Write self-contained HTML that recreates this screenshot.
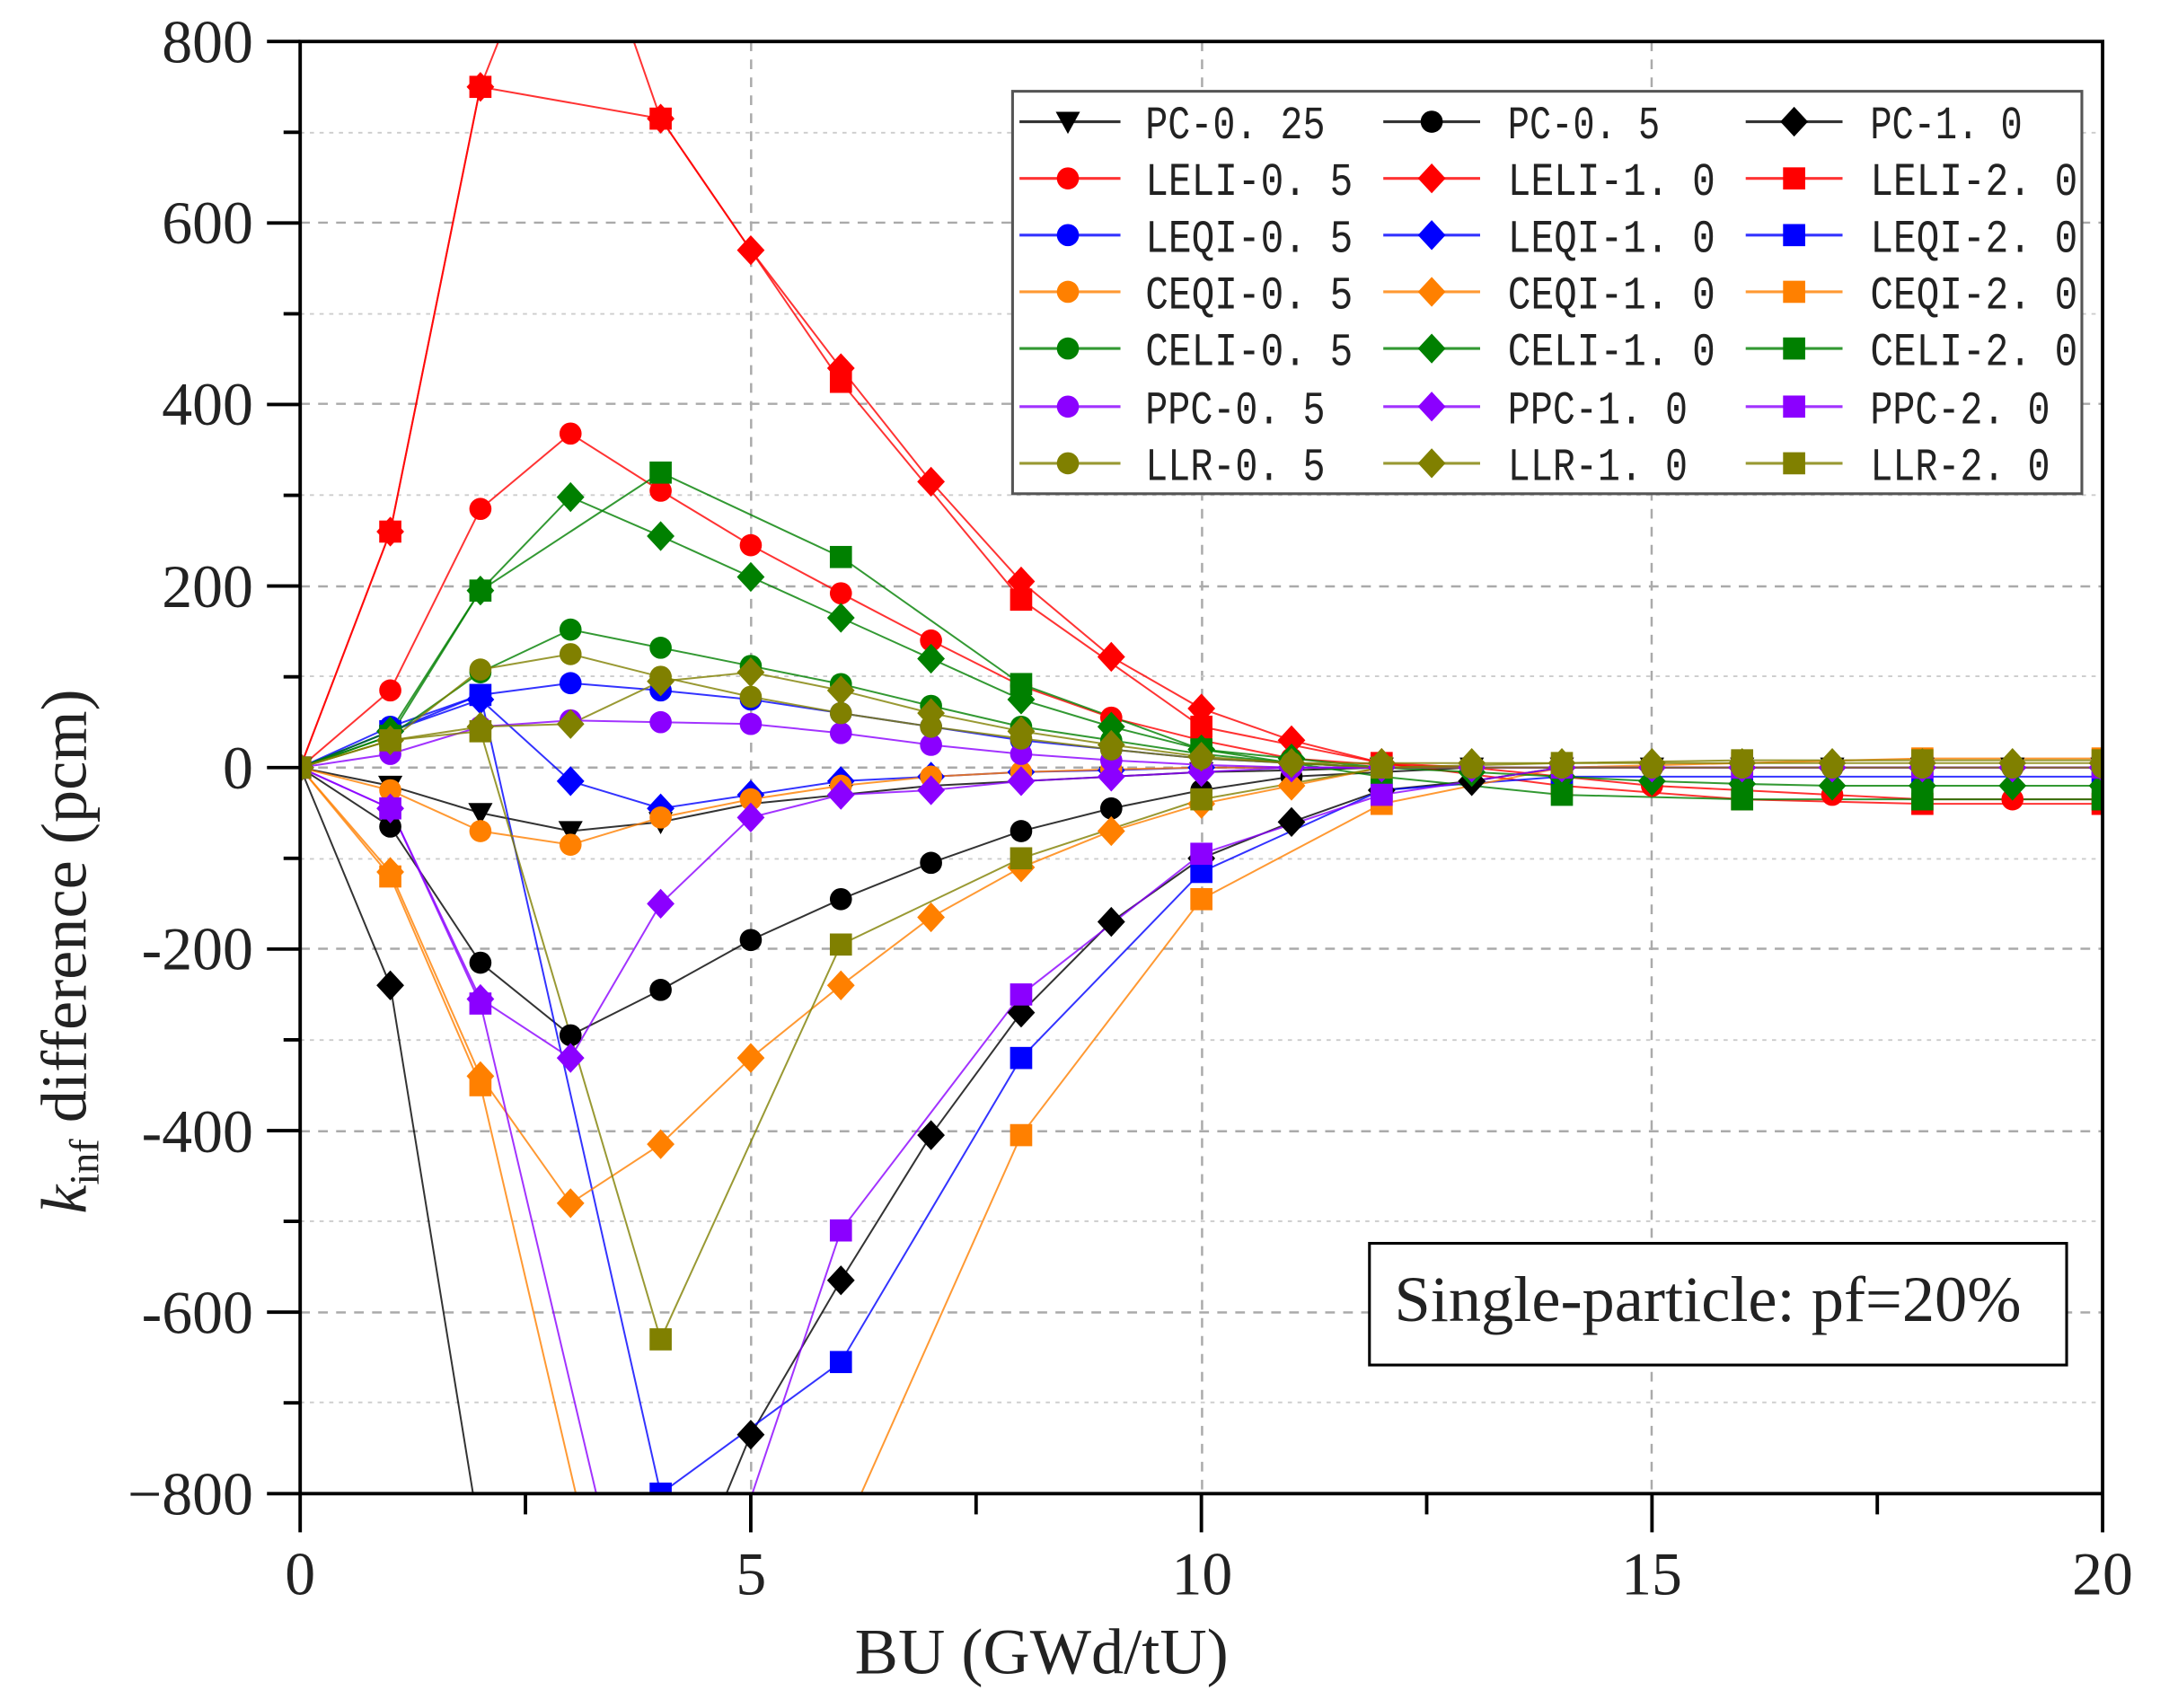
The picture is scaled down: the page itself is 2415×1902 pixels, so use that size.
<!DOCTYPE html>
<html><head><meta charset="utf-8"><style>
html,body{margin:0;padding:0;background:#fff;overflow:hidden;width:2415px;height:1902px;}
svg{display:block;}
.tk{font-family:"Liberation Serif",serif;font-size:44px;fill:#222;}
.ax{font-family:"Liberation Serif",serif;font-size:47px;fill:#222;}
.lg{font-family:"Liberation Mono","Noto Sans CJK SC",monospace;font-size:34px;fill:#222;}
</style></head><body>
<svg id="s" width="2415" height="1902" viewBox="0 0 1568 1235" preserveAspectRatio="none" xmlns="http://www.w3.org/2000/svg">
<defs><clipPath id="cp"><rect x="217" y="30" width="1303" height="1050"/></clipPath></defs>
<rect width="1568" height="1235" fill="#fff"/>
<g stroke="#aaa" stroke-width="1.6" stroke-dasharray="7,6">
<line x1="217" x2="1520" y1="161" y2="161"/><line x1="217" x2="1520" y1="292" y2="292"/><line x1="217" x2="1520" y1="424" y2="424"/>
<line x1="217" x2="1520" y1="555" y2="555"/><line x1="217" x2="1520" y1="686" y2="686"/><line x1="217" x2="1520" y1="818" y2="818"/><line x1="217" x2="1520" y1="949" y2="949"/>
<line x1="543" x2="543" y1="30" y2="1080"/><line x1="869" x2="869" y1="30" y2="1080"/><line x1="1194" x2="1194" y1="30" y2="1080"/>
</g>
<g stroke="#ccc" stroke-width="1.2" stroke-dasharray="3,4">
<line x1="217" x2="1520" y1="96" y2="96"/><line x1="217" x2="1520" y1="227" y2="227"/><line x1="217" x2="1520" y1="358" y2="358"/><line x1="217" x2="1520" y1="489" y2="489"/>
<line x1="217" x2="1520" y1="621" y2="621"/><line x1="217" x2="1520" y1="752" y2="752"/><line x1="217" x2="1520" y1="883" y2="883"/><line x1="217" x2="1520" y1="1014" y2="1014"/>
</g>
<g id="series" clip-path="url(#cp)"></g>
<rect x="217" y="30" width="1303" height="1050" fill="none" stroke="#000" stroke-width="2.5"/>
<g stroke="#000" stroke-width="2.5" id="ticks"></g>
<g class="tk" text-anchor="end">
<text x="183" y="45">800</text><text x="183" y="176">600</text><text x="183" y="307">400</text><text x="183" y="439">200</text>
<text x="183" y="570">0</text><text x="183" y="701">-200</text><text x="183" y="833">-400</text><text x="183" y="964">-600</text><text x="183" y="1095">−800</text>
</g>
<g class="tk" text-anchor="middle">
<text x="217" y="1153">0</text><text x="543" y="1153">5</text><text x="869" y="1153">10</text><text x="1194" y="1153">15</text><text x="1520" y="1153">20</text>
</g>
<text class="ax" x="753" y="1210" text-anchor="middle">BU (GWd/tU)</text>
<text class="ax" transform="translate(62,688) rotate(-90)" text-anchor="middle"><tspan font-style="italic">k</tspan><tspan font-size="30" dy="9">inf</tspan><tspan dy="-9"> difference (pcm)</tspan></text>
<rect x="732" y="66" width="773" height="291" fill="#fff" stroke="#555" stroke-width="2"/>
<g id="legend"></g>
<g class="lg">
<text x="828" y="100" textLength="130" lengthAdjust="spacingAndGlyphs">PC-0. 25</text><text x="1090" y="100" textLength="110" lengthAdjust="spacingAndGlyphs">PC-0. 5</text><text x="1352" y="100" textLength="110" lengthAdjust="spacingAndGlyphs">PC-1. 0</text>
<text x="828" y="141" textLength="150" lengthAdjust="spacingAndGlyphs">LELI-0. 5</text><text x="1090" y="141" textLength="150" lengthAdjust="spacingAndGlyphs">LELI-1. 0</text><text x="1352" y="141" textLength="150" lengthAdjust="spacingAndGlyphs">LELI-2. 0</text>
<text x="828" y="182" textLength="150" lengthAdjust="spacingAndGlyphs">LEQI-0. 5</text><text x="1090" y="182" textLength="150" lengthAdjust="spacingAndGlyphs">LEQI-1. 0</text><text x="1352" y="182" textLength="150" lengthAdjust="spacingAndGlyphs">LEQI-2. 0</text>
<text x="828" y="223" textLength="150" lengthAdjust="spacingAndGlyphs">CEQI-0. 5</text><text x="1090" y="223" textLength="150" lengthAdjust="spacingAndGlyphs">CEQI-1. 0</text><text x="1352" y="223" textLength="150" lengthAdjust="spacingAndGlyphs">CEQI-2. 0</text>
<text x="828" y="264" textLength="150" lengthAdjust="spacingAndGlyphs">CELI-0. 5</text><text x="1090" y="264" textLength="150" lengthAdjust="spacingAndGlyphs">CELI-1. 0</text><text x="1352" y="264" textLength="150" lengthAdjust="spacingAndGlyphs">CELI-2. 0</text>
<text x="828" y="306" textLength="130" lengthAdjust="spacingAndGlyphs">PPC-0. 5</text><text x="1090" y="306" textLength="130" lengthAdjust="spacingAndGlyphs">PPC-1. 0</text><text x="1352" y="306" textLength="130" lengthAdjust="spacingAndGlyphs">PPC-2. 0</text>
<text x="828" y="347" textLength="130" lengthAdjust="spacingAndGlyphs">LLR-0. 5</text><text x="1090" y="347" textLength="130" lengthAdjust="spacingAndGlyphs">LLR-1. 0</text><text x="1352" y="347" textLength="130" lengthAdjust="spacingAndGlyphs">LLR-2. 0</text>
</g>
<rect x="990" y="899" width="504" height="88" fill="#fff" stroke="#000" stroke-width="2"/>
<text class="ax" x="1008" y="955">Single-particle: pf=20%</text>
</svg>
<script>
var NS="http://www.w3.org/2000/svg";
function X(v){return 217+65.15*v;} function Y(v){return 555-0.65625*v;}
function el(p,t,a){var e=document.createElementNS(NS,t);for(var k in a)e.setAttribute(k,a[k]);p.appendChild(e);return e;}
function mk(g,type,x,y,c,s){s=s||8;
 if(type=='c')el(g,'circle',{cx:x,cy:y,r:s,fill:c});
 else if(type=='d')el(g,'polygon',{points:(x)+','+(y-s*1.35)+' '+(x+s*1.25)+','+y+' '+x+','+(y+s*1.35)+' '+(x-s*1.25)+','+y,fill:c});
 else if(type=='s')el(g,'rect',{x:x-s,y:y-s,width:2*s,height:2*s,fill:c});
 else el(g,'polygon',{points:(x-s*1.1)+','+(y-s*0.9)+' '+(x+s*1.1)+','+(y-s*0.9)+' '+x+','+(y+s*1.1),fill:c});}
var K='#000',R='#ff0000',B='#0000ff',O='#ff8000',G='#008000',P='#8b00ff',L='#808000';
var S=[
['PC-0.25',K,'t',[0,-20,-50,-70,-60,-40,-30,-20,-15,-10,-5,-3,0,0,0,0,0,0,0,0,0]],
['PC-0.5',K,'c',[0,-65,-215,-295,-245,-190,-145,-105,-70,-45,-25,-10,-5,0,0,0,0,0,0,0,0]],
['PC-1.0',K,'d',[0,-240,-850,-1200,-975,-735,-565,-405,-270,-170,-100,-60,-25,-15,0,0,0,0,0,0,0]],
['LELI-0.5',R,'c',[0,85,285,368,305,245,192,140,90,55,30,10,3,0,-10,-20,-25,-30,-35,-35,-35]],
['LELI-1.0',R,'d',[0,260,750,1000,715,570,440,315,205,122,65,30,5,0,0,0,0,0,0,0,0]],
['LELI-2.0',R,'s',[0,260,750,1000,715,570,425,315,185,120,45,25,5,-10,-20,-30,-35,-38,-40,-40,-40]],
['LEQI-0.5',B,'c',[0,45,80,93,85,75,60,45,30,20,10,5,0,0,0,0,0,0,0,0,0]],
['LEQI-1.0',B,'d',[0,40,75,-15,-45,-30,-15,-10,-5,-3,0,0,0,0,0,0,0,0,0,0,0]],
['LEQI-2.0',B,'s',[0,40,80,-360,-800,-730,-655,-480,-320,-200,-115,-60,-25,-10,-10,-10,-10,-10,-10,-10,-10]],
['CEQI-0.5',O,'c',[0,-25,-70,-85,-55,-35,-20,-10,-5,-2,0,0,0,0,0,0,0,0,0,0,0]],
['CEQI-1.0',O,'d',[0,-115,-340,-480,-415,-320,-240,-165,-110,-70,-40,-20,0,0,0,0,0,0,0,0,0]],
['CEQI-2.0',O,'s',[0,-120,-350,-900,-1200,-1100,-850,-620,-405,-270,-145,-80,-40,-15,0,5,5,8,10,10,10]],
['CELI-0.5',G,'c',[0,35,105,152,132,112,92,68,45,30,15,5,0,0,0,0,0,0,0,0,0]],
['CELI-1.0',G,'d',[0,40,195,298,255,210,165,120,75,45,20,10,0,-5,-10,-15,-18,-20,-20,-20,-20]],
['CELI-2.0',G,'s',[0,35,195,260,325,278,232,160,92,50,20,5,-10,-20,-30,-32,-35,-35,-35,-35,-35]],
['PPC-0.5',P,'c',[0,15,45,52,50,48,38,25,15,8,3,0,0,0,0,0,0,0,0,0,0]],
['PPC-1.0',P,'d',[0,-45,-255,-320,-150,-55,-30,-25,-15,-10,-5,0,0,0,0,0,0,0,0,0,0]],
['PPC-2.0',P,'s',[0,-45,-260,-710,-1100,-820,-510,-380,-250,-170,-95,-60,-30,-10,0,0,0,0,0,0,0]],
['LLR-0.5',L,'c',[0,30,108,125,100,78,60,45,32,20,10,5,0,0,0,0,0,0,0,0,0]],
['LLR-1.0',L,'d',[0,30,45,48,95,105,85,60,40,25,12,5,5,5,5,5,5,5,5,5,5]],
['LLR-2.0',L,'s',[0,30,40,-295,-630,-410,-195,-145,-100,-65,-35,-10,0,5,5,5,8,8,8,8,8]]];
var g=document.getElementById('series');
S.forEach(function(s){var v=s[3],pts=[];
 v.forEach(function(y,i){if(s[2]=='s'&&i%2==1&&i>2)return;pts.push(X(i)+','+Y(y));});
 el(g,'polyline',{points:pts.join(' '),fill:'none',stroke:s[1],'stroke-width':1.3,'stroke-opacity':0.8});});
S.forEach(function(s){s[3].forEach(function(v,i){if(s[2]=='s'&&i%2==1&&i>2)return;mk(g,s[2],X(i),Y(v),s[1],8);});});
var lg=document.getElementById('legend');
var cols=[[737,810,772],[1000,1070,1035],[1262,1332,1297]];
var rows=[88,129,170,211,252,294,335];
S.forEach(function(s,i){var r,c;if(i<3){r=0;c=i;}else{r=1+Math.floor((i-3)/3);c=(i-3)%3;}
 var cc=cols[c],y=rows[r];
 el(lg,'line',{x1:cc[0],x2:cc[1],y1:y,y2:y,stroke:s[1],'stroke-width':2,'stroke-opacity':0.8});
 mk(lg,s[2],cc[2],y,s[1],8);});
var tk=document.getElementById('ticks');
[800,600,400,200,0,-200,-400,-600,-800].forEach(function(v){el(tk,'line',{x1:193,x2:217,y1:Y(v),y2:Y(v)});});
[700,500,300,100,-100,-300,-500,-700].forEach(function(v){el(tk,'line',{x1:205,x2:217,y1:Y(v),y2:Y(v)});});
[0,5,10,15,20].forEach(function(v){el(tk,'line',{x1:X(v),x2:X(v),y1:1080,y2:1108});});
[2.5,7.5,12.5,17.5].forEach(function(v){el(tk,'line',{x1:X(v),x2:X(v),y1:1080,y2:1095});});
</script>
</body></html>
